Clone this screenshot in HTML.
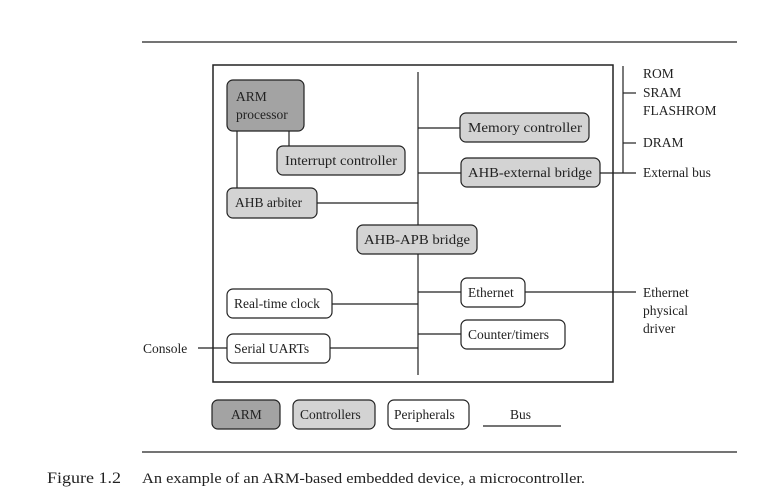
<!DOCTYPE html>
<html><head><meta charset="utf-8"><style>
html,body{margin:0;padding:0;background:#fff;}
svg{display:block;}
text{font-family:"Liberation Serif",serif;fill:#222;}
</style></head><body>
<svg width="757" height="502" viewBox="0 0 757 502" xmlns="http://www.w3.org/2000/svg">
<g stroke="#222" stroke-width="1.2" fill="none">
<line x1="142" y1="42" x2="737" y2="42"/>
<line x1="142" y1="452" x2="737" y2="452"/>
<rect x="213" y="65" width="400" height="317" stroke-width="1.5"/>
<line x1="418" y1="72" x2="418" y2="375"/>
<line x1="237" y1="131" x2="237" y2="188"/>
<line x1="289" y1="131" x2="289" y2="146"/>
<line x1="317" y1="203" x2="418" y2="203"/>
<line x1="418" y1="128" x2="460" y2="128"/>
<line x1="418" y1="173" x2="461" y2="173"/>
<line x1="600" y1="173" x2="636" y2="173"/>
<line x1="623" y1="66" x2="623" y2="173"/>
<line x1="623" y1="93" x2="636" y2="93"/>
<line x1="623" y1="143" x2="636" y2="143"/>
<line x1="332" y1="304" x2="418" y2="304"/>
<line x1="198" y1="348" x2="227" y2="348"/>
<line x1="330" y1="348" x2="418" y2="348"/>
<line x1="418" y1="292" x2="461" y2="292"/>
<line x1="525" y1="292" x2="636" y2="292"/>
<line x1="418" y1="334" x2="461" y2="334"/>
<line x1="483" y1="426" x2="561" y2="426"/>
</g>
<g stroke="#222" stroke-width="1.2">
<rect x="227" y="80" width="77" height="51" rx="6" fill="#a3a3a3"/>
<rect x="277" y="146" width="128" height="29" rx="6" fill="#d3d3d3"/>
<rect x="460" y="113" width="129" height="29" rx="6" fill="#d3d3d3"/>
<rect x="461" y="158" width="139" height="29" rx="6" fill="#d3d3d3"/>
<rect x="227" y="188" width="90" height="30" rx="6" fill="#d3d3d3"/>
<rect x="357" y="225" width="120" height="29" rx="6" fill="#d3d3d3"/>
<rect x="227" y="289" width="105" height="29" rx="6" fill="#fff"/>
<rect x="227" y="334" width="103" height="29" rx="6" fill="#fff"/>
<rect x="461" y="278" width="64" height="29" rx="6" fill="#fff"/>
<rect x="461" y="320" width="104" height="29" rx="6" fill="#fff"/>
<rect x="212" y="400" width="68" height="29" rx="6" fill="#a3a3a3"/>
<rect x="293" y="400" width="82" height="29" rx="6" fill="#d3d3d3"/>
<rect x="388" y="400" width="81" height="29" rx="6" fill="#fff"/>
</g>
<g font-size="13.5">
<text x="236" y="101">ARM</text>
<text x="236" y="119">processor</text>
<text x="285" y="165" textLength="112" lengthAdjust="spacingAndGlyphs">Interrupt controller</text>
<text x="468" y="132" textLength="114" lengthAdjust="spacingAndGlyphs">Memory controller</text>
<text x="468" y="177" textLength="124" lengthAdjust="spacingAndGlyphs">AHB-external bridge</text>
<text x="235" y="207">AHB arbiter</text>
<text x="364" y="244" textLength="106" lengthAdjust="spacingAndGlyphs">AHB-APB bridge</text>
<text x="234" y="308">Real-time clock</text>
<text x="234" y="353">Serial UARTs</text>
<text x="468" y="297">Ethernet</text>
<text x="468" y="339">Counter/timers</text>
<text x="143" y="353">Console</text>
<text x="643" y="78">ROM</text>
<text x="643" y="97">SRAM</text>
<text x="643" y="115">FLASHROM</text>
<text x="643" y="147">DRAM</text>
<text x="643" y="177">External bus</text>
<text x="643" y="297">Ethernet</text>
<text x="643" y="315">physical</text>
<text x="643" y="333">driver</text>
<text x="231" y="419">ARM</text>
<text x="300" y="419">Controllers</text>
<text x="394" y="419">Peripherals</text>
<text x="510" y="419">Bus</text>
</g>
<text x="47" y="483" font-size="16" textLength="74" lengthAdjust="spacingAndGlyphs">Figure 1.2</text>
<text x="142" y="483" font-size="15" textLength="443" lengthAdjust="spacingAndGlyphs">An example of an ARM-based embedded device, a microcontroller.</text>
</svg>
</body></html>
